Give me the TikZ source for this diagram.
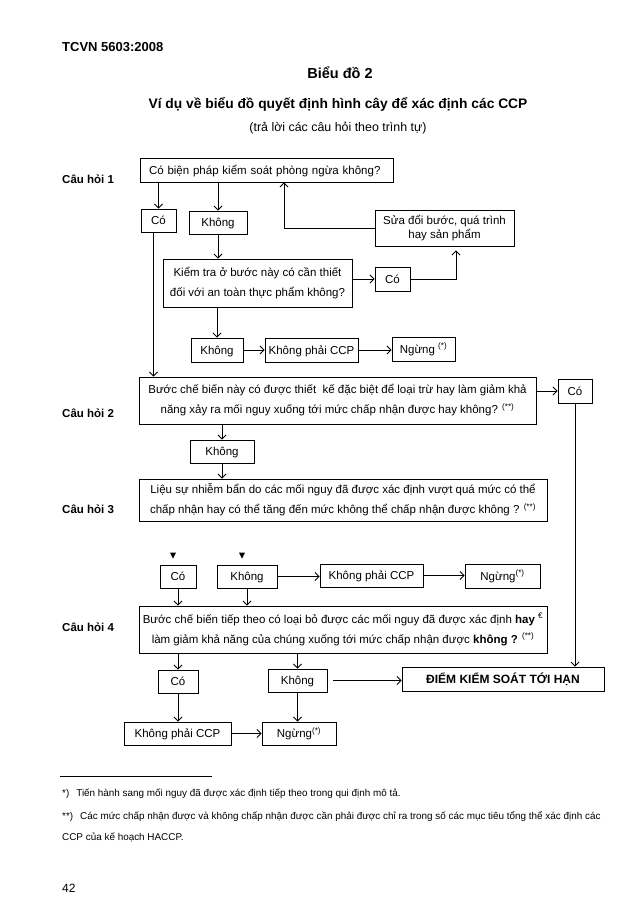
\documentclass[tikz,border=0pt]{standalone}
\usepackage{fontspec}
\setmainfont{Liberation Sans}
\usetikzlibrary{arrows.meta, positioning}

\begin{document}
\begin{tikzpicture}[x=1pt, y=-1pt,
  every node/.style={font=\fontsize{11.5}{20}\selectfont, inner sep=0pt},
  box/.style={draw, line width=0.9pt, align=center},
  onebox/.style={box, text height=10pt, text depth=1.5pt},
  arr/.style={line width=0.8pt, -{Straight Barb[length=4pt, width=8pt]}},
  qlabel/.style={anchor=west, font=\fontsize{11.5}{14}\selectfont\bfseries}]
  \useasboundingbox (0,0) rectangle (638,909);

  % Header
  \node[anchor=west, font=\fontsize{13}{15}\selectfont\bfseries] (tcvn) at (62,47) {TCVN 5603:2008};
  \node[font=\fontsize{14.5}{17}\selectfont\bfseries] (chart) at (340,73) {Biểu đồ 2};
  \node[font=\fontsize{13.8}{16}\selectfont\bfseries] (title) at (338,104) {Ví dụ về biểu đồ quyết định hình cây để xác định các CCP};
  \node[font=\fontsize{12.4}{15}\selectfont] (subtitle) at (338,128) {(trả lời các câu hỏi theo trình tự)};

  % Question labels
  \node[qlabel] (lbq1) at (62,179) {Câu hỏi 1};
  \node[qlabel] (lbq2) at (62,413) {Câu hỏi 2};
  \node[qlabel] (lbq3) at (62,509) {Câu hỏi 3};
  \node[qlabel] (lbq4) at (62,627) {Câu hỏi 4};

  % Question 1
  \node[onebox, minimum width=253, minimum height=24, text width=235, align=left] (q1) at (266.5,170)
    {Có biện pháp kiểm soát phòng ngừa không?};
  \node[onebox, minimum width=35, minimum height=23] (co1) at (158.5,220.5) {Có};
  \node[onebox, minimum width=58, minimum height=23] (kh1) at (218,222.5) {Không};
  \node[box, minimum width=139, minimum height=36, font=\fontsize{11.5}{14}\selectfont] (sua) at (444.5,228)
    {Sửa đổi bước, quá trình\\hay sản phẩm};
  \node[box, minimum width=189, minimum height=48] (check) at (257.5,283)
    {Kiểm tra ở bước này có cần thiết\\đối với an toàn thực phẩm không?};
  \node[onebox, minimum width=35, minimum height=24] (co2) at (392.5,279) {Có};
  \node[onebox, minimum width=52, minimum height=24] (kh2) at (217,350) {Không};
  \node[onebox, minimum width=93, minimum height=24] (notccp1) at (311.5,350) {Không phải CCP};
  \node[onebox, minimum width=63, minimum height=24] (stop1) at (423.5,349) {Ngừng \textsuperscript{(*)}};

  % Question 2
  \node[box, minimum width=397, minimum height=47] (q2) at (337.5,400.5)
    {Bước chế biến này có được thiết\ \ kế đặc biệt để loại trừ hay làm giảm khả\\năng xảy ra mối nguy xuống tới mức chấp nhận được hay không? \textsuperscript{(**)}};
  \node[onebox, minimum width=34, minimum height=24] (co3) at (575,391) {Có};
  \node[onebox, minimum width=64, minimum height=23] (kh3) at (222,451.5) {Không};

  % Question 3
  \node[box, minimum width=408, minimum height=42] (q3) at (343,500)
    {Liệu sự nhiễm bẩn do các mối nguy đã được xác định vượt quá mức có thể\\chấp nhận hay có thể tăng đến mức không thể chấp nhận được không ? \textsuperscript{(**)}};
  \node[onebox, minimum width=36, minimum height=23] (co4) at (178,576.5) {Có};
  \node[onebox, minimum width=60, minimum height=23] (kh4) at (247,576.5) {Không};
  \node[onebox, minimum width=103, minimum height=23] (notccp4) at (371.5,575.5) {Không phải CCP};
  \node[onebox, minimum width=75, minimum height=24] (stop4) at (502.5,576) {Ngừng\textsuperscript{(*)}};

  % Question 4
  \node[box, minimum width=408, minimum height=47] (q4) at (343,629.5)
    {Bước chế biến tiếp theo có loại bỏ được các mối nguy đã được xác định \textbf{hay} \textsuperscript{€}\\làm giảm khả năng của chúng xuống tới mức chấp nhận được \textbf{không ?} \textsuperscript{(**)}};
  \node[onebox, minimum width=40, minimum height=23] (co5) at (178,681.5) {Có};
  \node[onebox, minimum width=59, minimum height=23] (kh5) at (297.5,680.5) {Không};
  \node[onebox, minimum width=202, minimum height=24, font=\fontsize{12}{14}\selectfont\bfseries] (ccp) at (503,679)
    {ĐIỂM KIỂM SOÁT TỚI HẠN};
  \node[onebox, minimum width=107, minimum height=23] (notccp5) at (177.5,733.5) {Không phải CCP};
  \node[onebox, minimum width=74, minimum height=23] (stop5) at (299,733.5) {Ngừng\textsuperscript{(*)}};

  % Connectors, question 1
  \draw[arr] (q1.south -| co1) -- (co1.north);
  \draw[arr] (q1.south -| kh1) -- (kh1.north);
  \draw[arr] (sua.west) -| ([xshift=17.5pt]q1.south);
  \draw[arr] (kh1.south) -- (kh1.south |- check.north);
  \draw[arr] (co2.west -| check.east) -- (co2.west);
  \draw[arr] (co2.east) -| ([xshift=11.5pt, yshift=-4pt]sua.south);
  \draw[arr] (check.south -| kh2) -- (kh2.north);
  \draw[arr] (kh2.east) -- (kh2.east -| notccp1.west);
  \draw[arr] (notccp1.east) -- (notccp1.east -| stop1.west);
  \draw[arr] ([xshift=-5pt]co1.south) -- ([xshift=-5pt]co1.south |- q2.north);

  % Connectors, question 2
  \draw[arr] (q2.east |- co3) -- (co3.west);
  \draw[arr] (q2.south -| kh3) -- (kh3.north);
  \draw[arr] (kh3.south) -- (kh3.south |- q3.north);
  \draw[arr] (co3.south) -- (co3.south |- ccp.north);

  % Connectors, question 3
  \fill ([xshift=-8pt, yshift=12pt]co4.north) -- ++(6,0) -- ++(-3,6) -- cycle;
  \fill ([xshift=-8pt, yshift=12pt]kh4.north) -- ++(6,0) -- ++(-3,6) -- cycle;
  \draw[arr] (kh4.east) -- (kh4.east -| notccp4.west);
  \draw[arr] (notccp4.east) -- (notccp4.east -| stop4.west);
  \draw[arr] (co4.south) -- (co4.south |- q4.north);
  \draw[arr] (kh4.south) -- (kh4.south |- q4.north);

  % Connectors, question 4
  \draw[arr] (q4.south -| co5) -- (co5.north);
  \draw[arr] (q4.south -| kh5) -- (kh5.north);
  \draw[arr, shorten <=6pt] (kh5.east) -- (kh5.east -| ccp.west);
  \draw[arr] (co5.south) -- (co5.south |- notccp5.north);
  \draw[arr] (kh5.south) -- (kh5.south |- stop5.north);
  \draw[arr] (notccp5.east) -- (notccp5.east -| stop5.west);

  % Footnotes
  \coordinate (rulestart) at (60,776);
  \coordinate (ruleend) at (212,776);
  \draw[line width=0.8pt] (rulestart) -- (ruleend);
  \node[anchor=west, font=\fontsize{9.9}{12}\selectfont] (fn1) at (62,794)
    {*)\hspace{7pt}Tiến hành sang mối nguy đã được xác định tiếp theo trong qui định mô tả.};
  \node[anchor=west, font=\fontsize{9.9}{12}\selectfont] (fn2) at (62,817)
    {**)\hspace{7pt}Các mức chấp nhận được và không chấp nhận được cần phải được chỉ ra trong số các mục tiêu tổng thể xác định các};
  \node[anchor=west, font=\fontsize{9.9}{12}\selectfont] (fn3) at (62,837)
    {CCP của kế hoạch HACCP.};
  \node[anchor=west, font=\fontsize{12}{14}\selectfont] (page) at (62,888) {42};
\end{tikzpicture}
\end{document}
